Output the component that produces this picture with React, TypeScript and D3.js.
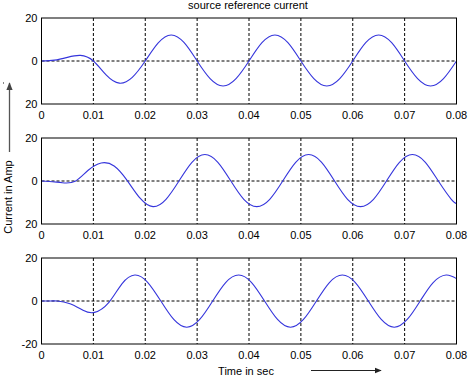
import React from "react";
import * as d3 from "d3";

const W = 474;
const H = 380;

const TITLE = "source reference current";
const XLABEL = "Time in sec";
const YLABEL = "Current in Amp";

const xTicks = [0, 0.01, 0.02, 0.03, 0.04, 0.05, 0.06, 0.07, 0.08];
const xTickLabels = ["0", "0.01", "0.02", "0.03", "0.04", "0.05", "0.06", "0.07", "0.08"];
const yTicks = [20, 0, -20];
const yTickLabelsTop = ["20", "0", "20"];
const yTickLabelsMid = ["20", "0", "20"];
const yTickLabelsBot = ["20", "0", "-20"];

// Series 1 (top)
const t1 = [0, 0.0025, 0.005, 0.0075, 0.01, 0.0125, 0.015, 0.0175, 0.02, 0.0225, 0.025, 0.0275, 0.03,
  0.0325, 0.035, 0.0375, 0.04, 0.0425, 0.045, 0.0475, 0.05, 0.0525, 0.055, 0.0575, 0.06, 0.0625, 0.065,
  0.0675, 0.07, 0.0725, 0.075, 0.0775, 0.08];
const v1 = [0, 0.4, 1.7, 2.6, 0, -6.6, -10.3, -7.6, 0, 8.4, 12.1, 8.5, 0,
  -8.2, -11.6, -8.2, 0, 8.5, 12.1, 8.5, 0, -8.2, -11.6, -8.2, 0, 8.5, 12.1,
  8.5, 0, -8.2, -11.6, -8.2, 0];

// Series 2 (middle)
const t2 = [0, 0.0015, 0.004, 0.0065, 0.009, 0.0115, 0.014, 0.0165, 0.019, 0.0215, 0.024, 0.0265, 0.029,
  0.0315, 0.034, 0.0365, 0.039, 0.0415, 0.044, 0.0465, 0.049, 0.0515, 0.054, 0.0565, 0.059, 0.0615,
  0.064, 0.0665, 0.069, 0.0715, 0.074, 0.0765, 0.079, 0.08];
const v2 = [0, -0.2, -0.8, -0.1, 5.0, 8.4, 7.0, 0.3, -8.0, -11.9, -8.5, 0, 8.7,
  12.3, 8.7, 0, -8.5, -11.9, -8.5, 0, 8.7, 12.3, 8.7, 0, -8.5, -11.9,
  -8.5, 0, 8.7, 12.3, 8.7, 0, -8.5, -10.4];

// Series 3 (bottom)
const t3 = [0, 0.0015, 0.003, 0.0055, 0.008, 0.0102, 0.013, 0.0155, 0.018, 0.0205, 0.023, 0.0255, 0.028,
  0.0305, 0.033, 0.0355, 0.038, 0.0405, 0.043, 0.0455, 0.048, 0.0505, 0.053, 0.0555, 0.058,
  0.0605, 0.063, 0.0655, 0.068, 0.0705, 0.073, 0.0755, 0.078, 0.08];
const v3 = [0, 0, 0, -1.3, -4.3, -5.3, -0.6, 8.0, 12.1, 8.6, 0, -8.6, -12.2,
  -8.6, 0, 8.6, 12.1, 8.6, 0, -8.6, -12.2, -8.6, 0, 8.6, 12.1,
  8.6, 0, -8.6, -12.2, -8.6, 0, 8.6, 12.1, 10.4];

const series = [
  { t: t1, v: v1, top: 18, labels: yTickLabelsTop },
  { t: t2, v: v2, top: 138, labels: yTickLabelsMid },
  { t: t3, v: v3, top: 258, labels: yTickLabelsBot },
];

const PLOT_L = 41.5;
const PLOT_R = 456.5;
const PLOT_H = 86;
const FONT = "'Liberation Sans', Arial, sans-serif";
const LINE_COLOR = "#3535dc";

function Panel({ t, v, top, labels }: { t: number[]; v: number[]; top: number; labels: string[] }) {
  const x = d3.scaleLinear().domain([0, 0.08]).range([PLOT_L, PLOT_R]);
  const y = d3.scaleLinear().domain([-20, 20]).range([top + PLOT_H, top]);
  const pts: [number, number][] = t.map((ti, i) => [ti, v[i]]);
  const line = d3
    .line<[number, number]>()
    .x((d) => x(d[0]))
    .y((d) => y(d[1]))
    .curve(d3.curveNatural);
  return (
    <g>
      <rect x={PLOT_L} y={top} width={PLOT_R - PLOT_L} height={PLOT_H} fill="#fff" />
      {xTicks.slice(1, -1).map((tk) => (
        <line key={tk} x1={x(tk)} x2={x(tk)} y1={top} y2={top + PLOT_H} stroke="#000" strokeWidth={1} strokeDasharray="3,2" />
      ))}
      <line x1={PLOT_L} x2={PLOT_R} y1={y(0)} y2={y(0)} stroke="#000" strokeWidth={1} strokeDasharray="3,2" />
      <path d={line(pts) || ""} fill="none" stroke={LINE_COLOR} strokeWidth={1.1} />
      <rect x={PLOT_L} y={top} width={PLOT_R - PLOT_L} height={PLOT_H} fill="none" stroke="#000" strokeWidth={1} />
      {xTicks.map((tk, i) => (
        <text key={tk} x={x(tk)} y={top + PLOT_H + 15} textAnchor="middle" fontSize={11} fontFamily={FONT} fill="#000">
          {xTickLabels[i]}
        </text>
      ))}
      {yTicks.map((tk, i) => (
        <text key={tk} x={PLOT_L - 4} y={y(tk) + 4} textAnchor="end" fontSize={11} fontFamily={FONT} fill="#000">
          {labels[i]}
        </text>
      ))}
    </g>
  );
}

export default function App() {
  return (
    <svg width={W} height={H} style={{ position: "absolute", left: 0, top: 0, background: "#fff" }}>
      <defs>
        <marker id="ah" viewBox="0 0 10 10" refX="9" refY="5" markerWidth="6" markerHeight="6" orient="auto">
          <path d="M0,1 L10,5 L0,9 Z" fill="#222" />
        </marker>
        <marker id="ahv" viewBox="0 0 10 10" refX="9" refY="5" markerWidth="6" markerHeight="6" orient="auto">
          <path d="M0,1 L10,5 L0,9 Z" fill="#444" />
        </marker>
      </defs>
      <rect x={0} y={0} width={W} height={H} fill="#fff" />
      <text x={248} y={9} textAnchor="middle" fontSize={11} fontFamily={FONT} fill="#000">
        {TITLE}
      </text>
      {series.map((s, i) => (
        <Panel key={i} t={s.t} v={s.v} top={s.top} labels={s.labels} />
      ))}
      <text
        x={0}
        y={0}
        transform="translate(12,197) rotate(-90)"
        textAnchor="middle"
        fontSize={11}
        fontFamily={FONT}
        fill="#000"
      >
        {YLABEL}
      </text>
      <line x1={9.5} x2={9.5} y1={152} y2={83} stroke="#555" strokeWidth={1.3} markerEnd="url(#ahv)" />
      <rect x={3} y={82} width={1} height={2} fill="#888" />
      <text x={246} y={375} textAnchor="middle" fontSize={11} fontFamily={FONT} fill="#000">
        {XLABEL}
      </text>
      <line x1={311} x2={381} y1={370.5} y2={370.5} stroke="#222" strokeWidth={1.2} markerEnd="url(#ah)" />
    </svg>
  );
}
